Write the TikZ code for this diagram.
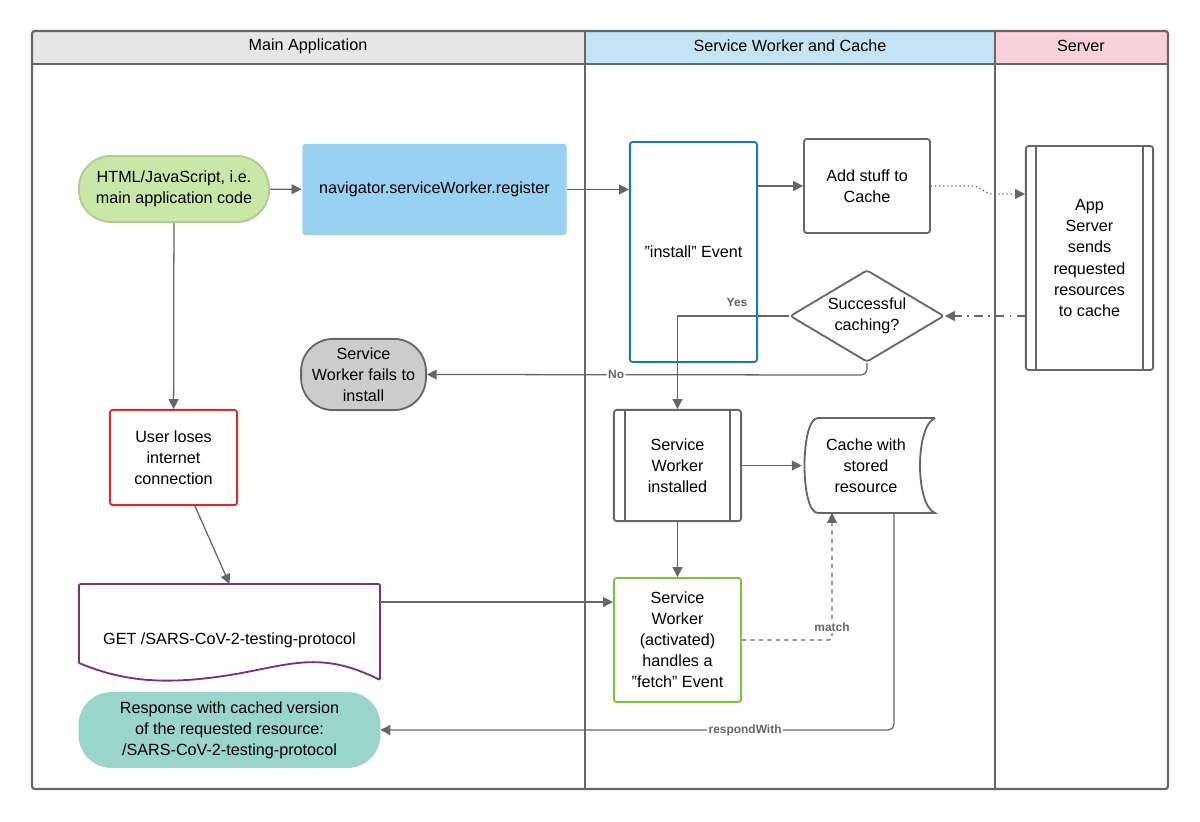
\documentclass[tikz,border=0pt]{standalone}
\usepackage{fontspec}
\setmainfont{Liberation Sans}
\usetikzlibrary{shapes.geometric,arrows.meta}
\definecolor{linegray}{HTML}{666666}
\definecolor{headgray}{HTML}{E6E6E6}
\definecolor{headblue}{HTML}{C3E4F6}
\definecolor{headpink}{HTML}{F9D0DC}
\definecolor{htmlgreen}{HTML}{C9E7A7}
\definecolor{regblue}{HTML}{99D1F3}
\definecolor{installblue}{HTML}{1A78C2}
\definecolor{loseRed}{HTML}{D42D2D}
\definecolor{getpurple}{HTML}{7B2D8E}
\definecolor{fetchgreen}{HTML}{7DC242}
\definecolor{respteal}{HTML}{99D5CA}
\tikzset{
  box/.style={draw=linegray, line width=1.3pt, rounded corners=2pt, align=center,
    font=\fontsize{11.5}{15}\selectfont},
  pill/.style={box, rounded corners=0.8cm},
  conn/.style={-{Triangle[length=7pt,width=7pt]}, draw=linegray, line width=0.9pt},
  tag/.style={font=\fontsize{8.5}{10}\selectfont\bfseries, text=linegray, fill=white, inner sep=1pt},
}
\begin{document}
\begin{tikzpicture}[x=0.025cm,y=-0.025cm]
	\useasboundingbox (0,0) rectangle (1200,821);

	% lanes
	\fill[headgray] (32,31) rectangle (585,64);
	\fill[headblue] (585,31) rectangle (995,64);
	\fill[headpink] (995,31) rectangle (1168,64);
	\draw[linegray, line width=1.6pt, rounded corners=2pt] (32,31) rectangle (1168,789);
	\draw[linegray, line width=1.6pt] (32,64) -- (1168,64);
	\draw[linegray, line width=1.6pt] (585,31) -- (585,789);
	\draw[linegray, line width=1.6pt] (995,31) -- (995,789);
	\node[font=\fontsize{11.5}{15}\selectfont] (laneMain) at (308,46) {Main Application};
	\node[font=\fontsize{11.5}{15}\selectfont] (laneSW) at (790,46) {Service Worker and Cache};
	\node[font=\fontsize{11.5}{15}\selectfont] (laneSrv) at (1081,46) {Server};

	% nodes
	\node[pill, draw=htmlgreen!80!black!60!htmlgreen, fill=htmlgreen, minimum width=4.75cm, minimum height=1.65cm] (html) at (174,189) {HTML/JavaScript, i.e.\\main application code};
	\node[box, draw=none, fill=regblue, minimum width=6.6cm, minimum height=2.28cm] (reg) at (434.5,189.5) {navigator.serviceWorker.register};
	\node[box, draw=installblue, minimum width=3.18cm, minimum height=5.5cm] (install) at (693.5,252) {"install" Event};
	\node[box, minimum width=3.15cm, minimum height=2.35cm] (add) at (867,186) {Add stuff to\\Cache};
	\node[box, minimum width=3.18cm, minimum height=5.6cm] (app) at (1089.5,258) {App\\Server\\sends\\requested\\resources\\to cache};
	\draw[linegray, line width=1.3pt] (1036,146) -- (1036,370) (1143,146) -- (1143,370);
	\node[box, diamond, aspect=1.67, inner sep=1pt, minimum width=3.85cm, minimum height=2.3cm] (check) at (867,316) {Successful\\caching?};
	\node[pill, fill=black!20, minimum width=3.12cm, minimum height=1.78cm] (fail) at (363.5,374.5) {Service\\Worker fails to\\install};
	\node[box, draw=loseRed, minimum width=3.18cm, minimum height=2.38cm] (lose) at (173.5,457.5) {User loses\\internet\\connection};
	\node[box, minimum width=3.18cm, minimum height=2.78cm] (swi) at (677.5,465.5) {Service\\Worker\\installed};
	\draw[linegray, line width=1.3pt] (625,410) -- (625,521) (730,410) -- (730,521);
	\node[align=center, font=\fontsize{11.5}{15}\selectfont, minimum width=3.2cm, minimum height=2.38cm] (cache) at (866,465.5) {Cache with\\stored\\resource};
	\draw[linegray, line width=1.3pt] (935,418) -- (818,418) .. controls (800,418) and (800,513) .. (818,513) -- (935,513)
	  .. controls (915,505) and (915,426) .. (935,418);
	\node[font=\fontsize{11.5}{15}\selectfont, minimum width=7.5cm, minimum height=1.9cm, yshift=-0.2cm] (get) at (229.5,632) {GET /SARS-CoV-2-testing-protocol};
	\draw[getpurple, line width=1.3pt, rounded corners=1pt] (79,663) -- (79,584) -- (380,584) -- (380,680)
	  .. controls (320,650) and (290,665) .. (230,675) .. controls (160,686) and (120,680) .. (79,663);
	\node[box, draw=fetchgreen, minimum width=3.18cm, minimum height=3.1cm] (fetch) at (677.5,640) {Service\\Worker\\(activated)\\handles a\\"fetch" Event};
	\node[pill, draw=respteal, fill=respteal, minimum width=7.5cm, minimum height=1.85cm] (resp) at (229.5,730) {Response with cached version\\of the requested resource:\\/SARS-CoV-2-testing-protocol};

	% connectors
	\draw[conn] (html) -- (reg);
	\draw[conn] (reg.east) -- (install.west |- reg.east);
	\draw[conn] (install.east |- add.west) -- (add.west);
	\draw[conn, dotted] (add.east) -- (975,186) -- (990,194) -- (app.west |- 0,194);
	\draw[conn, dash pattern=on 6pt off 4pt on 1pt off 4pt] (app.west |- check.east) -- (check.east);
	\draw[conn] (check.west) -- (swi.north |- check.west) -- node[pos=0] (yesTag) {} (swi.north);
	\node[tag] at (737,302) {Yes};
	\draw[conn, rounded corners=4pt] (check.south) -- (867,375) -- node[tag, pos=0.57] {No} (fail.east);
	\draw[conn] (html) -- (lose);
	\draw[conn] (lose) -- (get.north |- 0,584);
	\draw[conn] (get.east |- 0,602) -- (fetch.west |- 0,602);
	\draw[conn] (swi.east) -- (cache.west);
	\draw[conn] (swi) -- (fetch);
	\draw[conn, dashed, rounded corners=2pt] (fetch.east |- 0,640) -- (832,640) -- node[tag, pos=0.1] {match} (832,513);
	\draw[conn, rounded corners=4pt] (894,513) -- (894,730) -- node[tag, pos=0.29] {respondWith} (resp.east);
\end{tikzpicture}
\end{document}
